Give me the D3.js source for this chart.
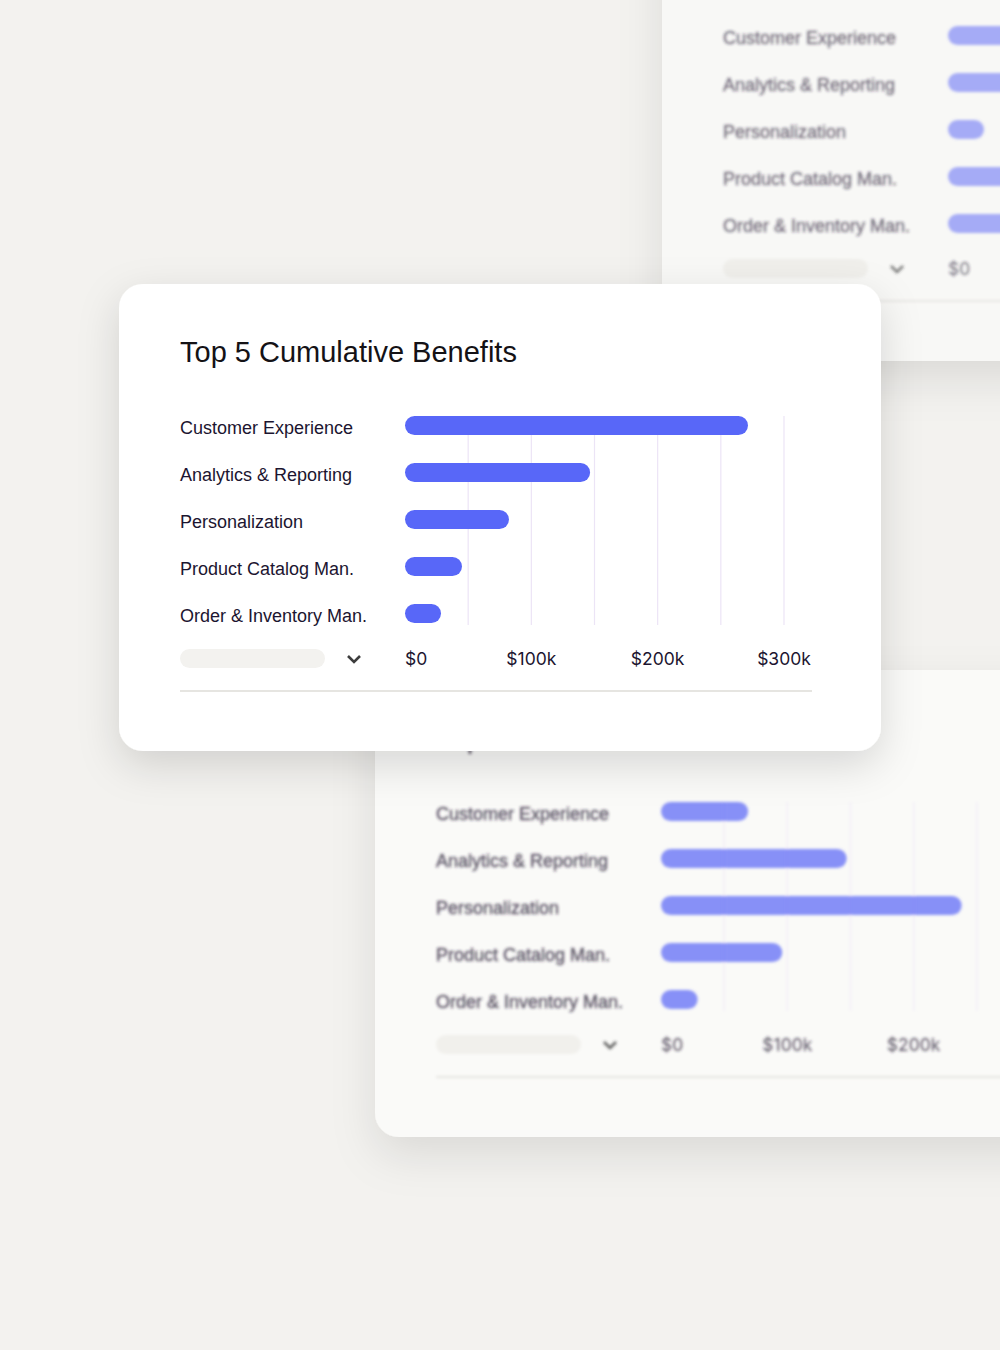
<!DOCTYPE html>
<html>
<head>
<meta charset="utf-8">
<script src="https://cdn.jsdelivr.net/npm/d3@7"></script>
<style>
  html, body { margin: 0; padding: 0; background: #f3f2ef; }
  svg { display: block; }
</style>
</head>
<body>
<svg id="chart" width="1000" height="1350"></svg>
<script>
// ---------- data ----------
const title = "Top 5 Cumulative Benefits";
const categories = ["Customer Experience", "Analytics & Reporting", "Personalization", "Product Catalog Man.", "Order & Inventory Man."];
const mainValues  = [271500, 146500, 82300, 45100, 28500];
const upperValues = [160000, 130000, 28500, 95000, 75000];
const lowerValues = [69000, 147000, 238000, 96000, 29000];
const tickValues = [0, 100000, 200000, 300000];
const tickLabels = ["$0", "$100k", "$200k", "$300k"];
const gridValues = [50000, 100000, 150000, 200000, 250000, 300000];

// ---------- setup ----------
const W = 1000, H = 1350;
const svg = d3.select("#chart");
svg.append("rect").attr("width", W).attr("height", H).attr("fill", "#f3f2ef");
const defs = svg.append("defs");

const sh = defs.append("filter").attr("id", "shadow").attr("x", "-30%").attr("y", "-30%").attr("width", "160%").attr("height", "170%");
sh.append("feDropShadow").attr("dx", 0).attr("dy", 14).attr("stdDeviation", 20).attr("flood-color", "#000").attr("flood-opacity", 0.14);

const shSoft = defs.append("filter").attr("id", "shadowSoft").attr("x", "-30%").attr("y", "-30%").attr("width", "160%").attr("height", "170%");
shSoft.append("feDropShadow").attr("dx", 0).attr("dy", 18).attr("stdDeviation", 22).attr("flood-color", "#000").attr("flood-opacity", 0.10);

const blur = defs.append("filter").attr("id", "blur").attr("x", "-10%").attr("y", "-10%").attr("width", "120%").attr("height", "120%");
blur.append("feGaussianBlur").attr("stdDeviation", 1.4);

const CARD_W = 762, CARD_H = 467;

function drawCard(x0, y0, values, opt) {
  const g = svg.append("g").attr("transform", `translate(${x0},${y0})`);
  g.append("rect")
    .attr("width", CARD_W).attr("height", CARD_H)
    .attr("rx", 24).attr("ry", 24)
    .attr("fill", opt.bg)
    .attr("filter", opt.shadow);

  const c = g.append("g")
    .attr("filter", opt.blur ? "url(#blur)" : null);

  const x = d3.scaleLinear().domain([0, 300000]).range([286, 665]);
  const y = d3.scaleBand().domain(categories).range([118, 353]).paddingInner(0);
  const barH = 19;
  const visibleX = v => x0 + x(v) < W + 20;

  // title (only when it falls inside the picture)
  if (y0 + 78 > 0) {
    c.append("text")
      .attr("x", 61).attr("y", 78)
      .attr("font-family", "'Liberation Sans', Arial, sans-serif")
      .attr("font-size", 29)
      .attr("fill", opt.titleColor)
      .attr("fill-opacity", opt.textOpacity)
      .text(title);
  }

  // gridlines
  c.append("g").selectAll("line").data(gridValues).join("line")
    .attr("x1", d => x(d)).attr("x2", d => x(d))
    .attr("y1", 132).attr("y2", 341)
    .attr("stroke", "#ece4f6").attr("stroke-width", 1.2)
    .attr("stroke-opacity", opt.gridOpacity);

  // labels
  c.append("g").selectAll("text").data(categories).join("text")
    .attr("x", 61)
    .attr("y", d => y(d) + y.bandwidth() / 2 + 8)
    .attr("font-family", "'Liberation Sans', Arial, sans-serif")
    .attr("font-size", 18)
    .attr("fill", opt.textColor)
    .attr("fill-opacity", opt.textOpacity)
    .attr("stroke", opt.blur ? opt.textColor : "none")
    .attr("stroke-opacity", opt.textOpacity * 0.6)
    .attr("stroke-width", opt.blur ? 0.5 : 0)
    .text(d => d);

  // bars
  c.append("g").selectAll("rect").data(values).join("rect")
    .attr("x", x(0))
    .attr("y", (d, i) => y(categories[i]) + y.bandwidth() / 2 - barH / 2)
    .attr("width", d => x(d) - x(0))
    .attr("height", barH)
    .attr("rx", barH / 2).attr("ry", barH / 2)
    .attr("fill", opt.barColor)
    .attr("fill-opacity", opt.barOpacity);

  // dropdown pill + chevron
  c.append("rect")
    .attr("x", 61).attr("y", 365).attr("width", 145).attr("height", 19)
    .attr("rx", 9.5).attr("fill", opt.pill);
  c.append("path")
    .attr("d", "M229,372 L235,378 L241,372")
    .attr("fill", "none").attr("stroke", opt.chevron)
    .attr("stroke-opacity", opt.textOpacity)
    .attr("stroke-width", 2.6);

  // x tick labels
  const ticks = tickValues.map((v, i) => ({ v, label: tickLabels[i] })).filter(d => visibleX(d.v));
  c.append("g").selectAll("text").data(ticks).join("text")
    .attr("x", d => x(d.v))
    .attr("y", 381)
    .attr("text-anchor", d => d.v === 0 ? "start" : "middle")
    .attr("font-family", "Inter, 'Liberation Sans', sans-serif")
    .attr("font-size", 17.5)
    .attr("fill", opt.textColor)
    .attr("fill-opacity", opt.textOpacity)
    .text(d => d.label);

  // bottom rule
  c.append("line")
    .attr("x1", 61).attr("x2", 693).attr("y1", 407).attr("y2", 407)
    .attr("stroke", opt.rule).attr("stroke-width", 2);
  return g;
}

// background (blurred) cards
drawCard(375, 670, lowerValues, {
  bg: "#fafaf8", shadow: "url(#shadowSoft)", blur: true,
  titleColor: "#2a2238", textColor: "#2a2238", textOpacity: 0.78,
  barColor: "#5a66f6", barOpacity: 0.72, gridOpacity: 0.7,
  pill: "#f1f0ec", chevron: "#333", rule: "#e6e5e1"
});
drawCard(662, -106, upperValues, {
  bg: "#f8f8f6", shadow: "url(#shadowSoft)", blur: true,
  titleColor: "#2a2238", textColor: "#2a2238", textOpacity: 0.62,
  barColor: "#5a66f6", barOpacity: 0.53, gridOpacity: 0.6,
  pill: "#f0efeb", chevron: "#333", rule: "#e8e7e3"
});

// main card
drawCard(119, 284, mainValues, {
  bg: "#ffffff", shadow: "url(#shadow)", blur: false,
  titleColor: "#141216", textColor: "#1c1530", textOpacity: 1,
  barColor: "#5867f8", barOpacity: 1, gridOpacity: 1,
  pill: "#f3f2ef", chevron: "#3d3d3d", rule: "#e6e5e1"
});
</script>
</body>
</html>
